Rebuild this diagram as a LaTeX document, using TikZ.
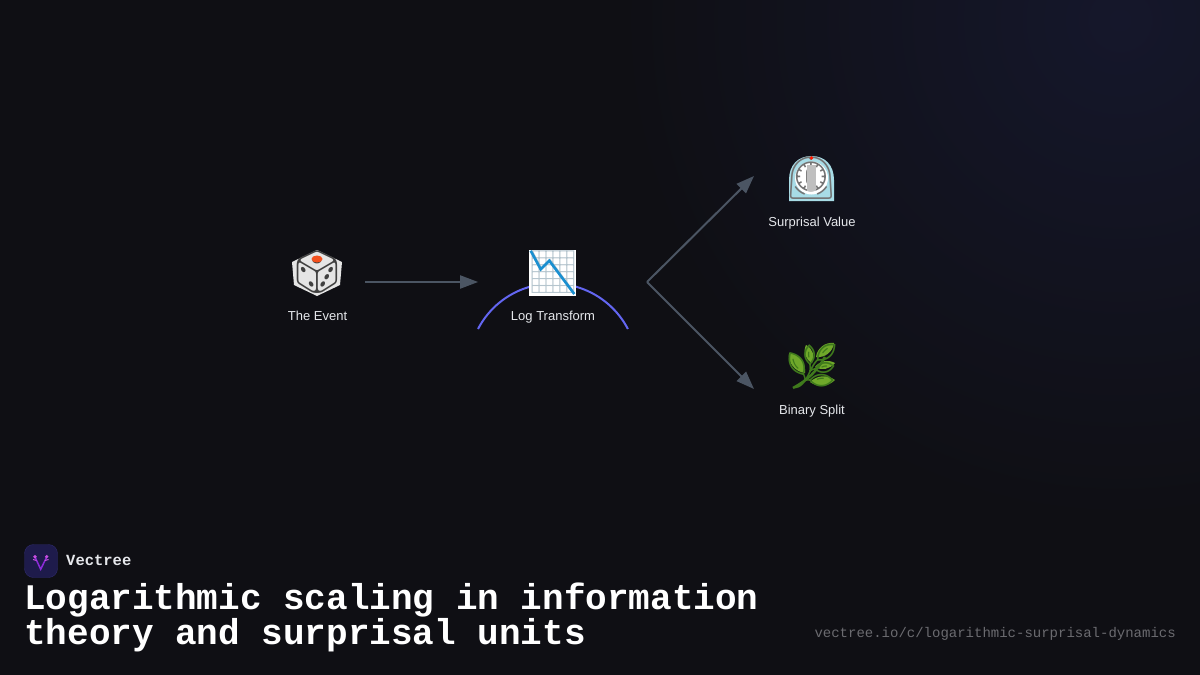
\documentclass[tikz,border=0pt]{standalone}
\usepackage{fontspec}
\usetikzlibrary{arrows.meta}
\setmainfont{Liberation Sans}
\setmonofont{Liberation Mono}
\newfontfamily\emojifont{Noto Emoji}
\definecolor{pagebg}{HTML}{0F0F14}
\definecolor{glowbg}{HTML}{15172B}
\definecolor{flowgrey}{HTML}{4B5563}
\definecolor{arcblue}{HTML}{6366F1}
\definecolor{labelgrey}{HTML}{E5E7EB}
\definecolor{urlgrey}{HTML}{6B6B70}
\definecolor{logobg}{HTML}{1E1B4B}
\definecolor{logoedge}{HTML}{2E2A6B}
\definecolor{logopurple}{HTML}{8A2BD8}
\definecolor{logodot}{HTML}{C84FE0}
\definecolor{leafgreen}{HTML}{6FA82A}
\definecolor{leafdark}{HTML}{3F7A1C}
\definecolor{timerblue}{HTML}{A8DCE6}
\definecolor{chartblue}{HTML}{1A8FD0}
\definecolor{gridgrey}{HTML}{B5C5CE}
\definecolor{pipred}{HTML}{F4511E}
\tikzset{
    x=1pt, y=-1pt,
    flow/.style={draw=flowgrey, line width=2pt, -{Triangle[length=18pt,width=13pt]}},
    icon/.style={font=\emojifont\fontsize{42}{42}\selectfont, inner sep=0pt},
    caption/.style={font=\fontsize{13}{16}\selectfont, text=labelgrey, inner sep=0pt, anchor=base},
    leaf/.style={fill=leafgreen},
    headline/.style={font=\ttfamily\bfseries\fontsize{36}{32}\selectfont, text=white, align=left, inner sep=0pt, anchor=south west}
}
\begin{document}
\begin{tikzpicture}
    \useasboundingbox (0,0) rectangle (1200,675);
    \fill[pagebg] (0,0) rectangle (1200,675);
    \begin{scope}
        \clip (0,0) rectangle (1200,675);
        \shade[inner color=glowbg, outer color=pagebg] (1120,20) circle (500);
    \end{scope}

    % arc behind the chart
    \draw[arcblue, line width=2pt] (478,329) arc (-152.5:-27.5:84.5);

    \fill[white!90!black] (317,250)--(342,262)--(340,285)--(317,296)--(294,285)--(292,262)--cycle;
    \node[icon, text=black!75] (dice) at (317,272) {🎲};
    \fill[pipred] (317,259) ellipse (5.5 and 3.5);
    \node[caption] (eventlabel) at (317.5,320) {The Event};

    \fill[white] (529,250) rectangle (576,296);
    \node[icon, text=gridgrey] (chart) at (553,272) {📉};
    \draw[chartblue, line width=2.6pt] (530.7,250.7)--(540.7,269.3)--(549.3,260.7)--(574.3,294);
    \node[caption] (loglabel) at (553,320) {Log Transform};

    \fill[timerblue] (789,201) -- (834,201) -- (834,180) .. controls (834,165) and (825,156) .. (811.5,156) .. controls (798,156) and (789,165) .. (789,180) -- cycle;
    \fill[white] (811.5,178) circle (16.5);
    \node[icon, text=black!55] (timer) at (811,178) {⏲};
    \fill[red!80!orange] (811.5,158) circle (1.8);
    \fill[black!25] (807,165) rectangle (816,191);
    \node[caption] (surpriselabel) at (812,226) {Surprisal Value};

    \fill[leaf] (816,357) to[bend left=45] (834,343) to[bend left=45] (816,357);
    \fill[leaf] (789,353) to[bend left=45] (805,373) to[bend left=45] (789,353);
    \fill[leaf] (806,345) to[bend left=45] (812,363) to[bend left=45] (806,345);
    \fill[leaf] (815,367) to[bend left=40] (835,363) to[bend left=40] (815,367);
    \fill[leaf] (810,382) to[bend left=40] (835,380) to[bend left=40] (810,382);
    \draw[leafdark, line width=2.5pt] (793,388) to[bend right=15] (825,357);
    \node[icon, text=leafdark, font=\emojifont\fontsize{44}{44}\selectfont] (leaf) at (812,366.5) {🌿};
    \node[caption] (splitlabel) at (812,414) {Binary Split};

    \coordinate (fork) at (647,282);
    \draw[flow] ([shift={(21,10)}]dice.east) -- ([shift={(-48,10)}]chart.west);
    \draw[flow] (fork) -- (754,176);
    \draw[flow] (fork) -- (754,389);

    % brand and title
    \node[draw=logoedge, fill=logobg, rounded corners=9pt, minimum size=33pt, inner sep=0pt] (logo) at (41,561) {};
    \draw[logopurple, line width=1.5pt] (35,557) -- (40.7,569.3) -- (46.7,557);
    \draw[logodot, line width=1pt] (36.6,560.5) -- (33,559.5) (44.8,560.5) -- (48.6,559.5);
    \fill[logodot] (35,556.7) circle (1.8) (46.7,556.7) circle (1.8);
    \node[font=\ttfamily\bfseries\fontsize{15.5}{16}\selectfont, text=labelgrey, anchor=west, inner sep=0pt] (brand) at (66,560.5) {Vectree};
    \node[headline] (title) at (24,652) {Logarithmic scaling in information\\theory and surprisal units};
    \node[font=\ttfamily\fontsize{14}{14}\selectfont, text=urlgrey, anchor=east, inner sep=0pt] (url) at (1176,633.5) {vectree.io/c/logarithmic-surprisal-dynamics};
\end{tikzpicture}
\end{document}
